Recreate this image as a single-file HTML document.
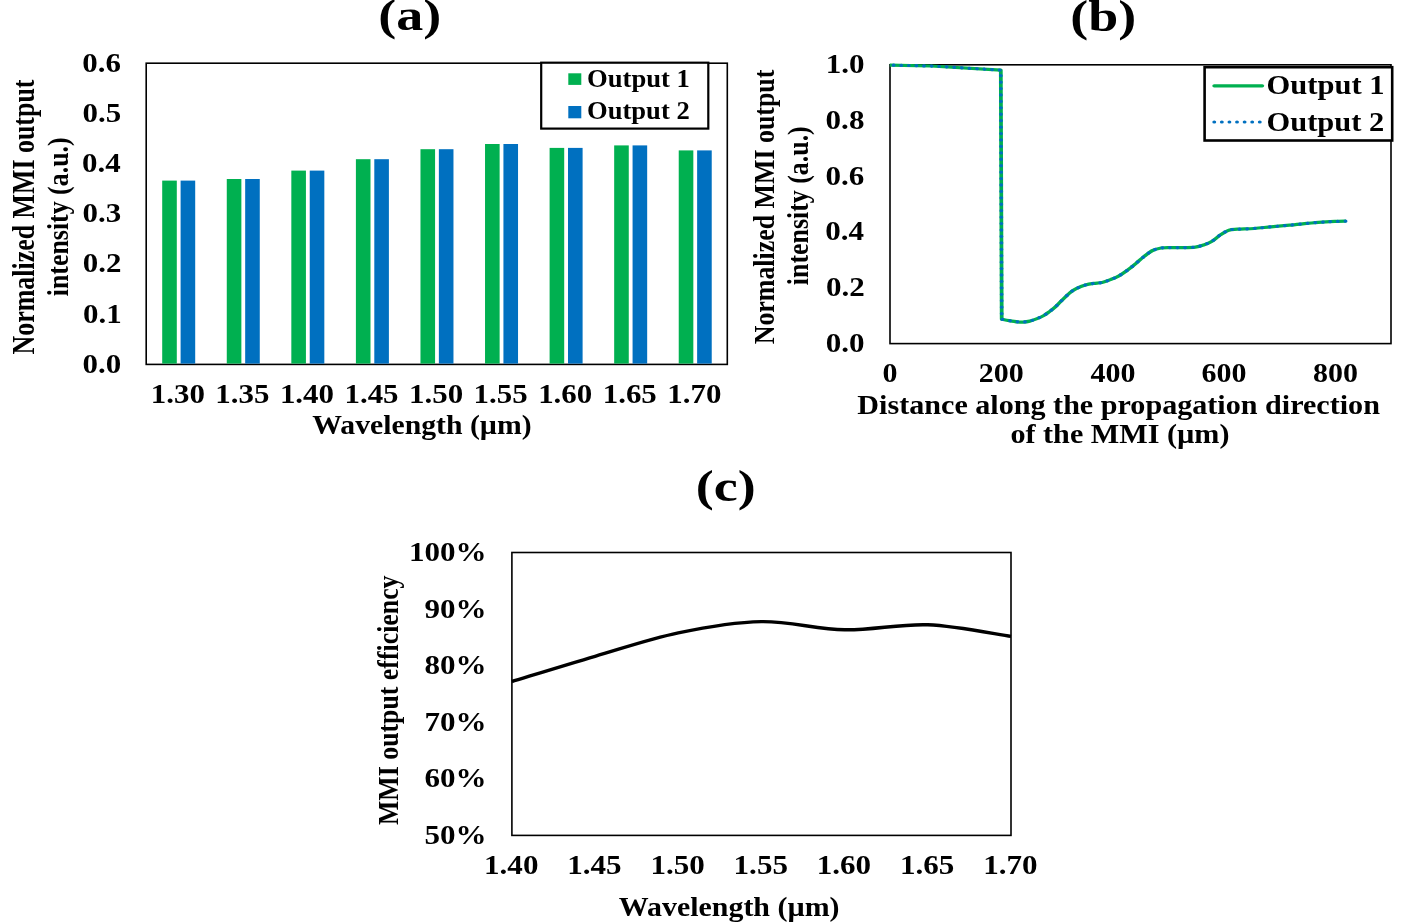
<!DOCTYPE html>
<html><head><meta charset="utf-8"><style>
html,body{margin:0;padding:0;background:#fff;}
svg{display:block;will-change:transform;}
text{font-family:"Liberation Serif",serif;font-weight:bold;fill:#000;}
</style></head><body>
<svg width="1425" height="924" viewBox="0 0 1425 924">
<rect width="1425" height="924" fill="#fff"/>
<text transform="translate(378.22,30.10) scale(1.2017,1)" font-size="45">(a)</text>
<rect x="146.20" y="63.20" width="581.10" height="301.20" fill="none" stroke="#000" stroke-width="1.6"/>
<rect x="162.20" y="180.60" width="14.60" height="183.00" fill="#00B050" stroke="none" stroke-width="0"/>
<rect x="180.60" y="180.60" width="14.60" height="183.00" fill="#0070C0" stroke="none" stroke-width="0"/>
<rect x="226.77" y="179.00" width="14.60" height="184.60" fill="#00B050" stroke="none" stroke-width="0"/>
<rect x="245.17" y="179.00" width="14.60" height="184.60" fill="#0070C0" stroke="none" stroke-width="0"/>
<rect x="291.33" y="170.60" width="14.60" height="193.00" fill="#00B050" stroke="none" stroke-width="0"/>
<rect x="309.73" y="170.60" width="14.60" height="193.00" fill="#0070C0" stroke="none" stroke-width="0"/>
<rect x="355.90" y="159.20" width="14.60" height="204.40" fill="#00B050" stroke="none" stroke-width="0"/>
<rect x="374.30" y="159.20" width="14.60" height="204.40" fill="#0070C0" stroke="none" stroke-width="0"/>
<rect x="420.47" y="149.20" width="14.60" height="214.40" fill="#00B050" stroke="none" stroke-width="0"/>
<rect x="438.87" y="149.20" width="14.60" height="214.40" fill="#0070C0" stroke="none" stroke-width="0"/>
<rect x="485.03" y="144.00" width="14.60" height="219.60" fill="#00B050" stroke="none" stroke-width="0"/>
<rect x="503.43" y="144.00" width="14.60" height="219.60" fill="#0070C0" stroke="none" stroke-width="0"/>
<rect x="549.60" y="147.90" width="14.60" height="215.70" fill="#00B050" stroke="none" stroke-width="0"/>
<rect x="568.00" y="147.90" width="14.60" height="215.70" fill="#0070C0" stroke="none" stroke-width="0"/>
<rect x="614.17" y="145.40" width="14.60" height="218.20" fill="#00B050" stroke="none" stroke-width="0"/>
<rect x="632.57" y="145.40" width="14.60" height="218.20" fill="#0070C0" stroke="none" stroke-width="0"/>
<rect x="678.73" y="150.40" width="14.60" height="213.20" fill="#00B050" stroke="none" stroke-width="0"/>
<rect x="697.13" y="150.40" width="14.60" height="213.20" fill="#0070C0" stroke="none" stroke-width="0"/>
<text transform="translate(82.61,372.70) scale(1.1250,1)" font-size="27.5">0.0</text>
<text transform="translate(83.03,322.50) scale(1.1250,1)" font-size="27.5">0.1</text>
<text transform="translate(82.76,272.30) scale(1.1250,1)" font-size="27.5">0.2</text>
<text transform="translate(82.49,222.10) scale(1.1250,1)" font-size="27.5">0.3</text>
<text transform="translate(82.00,171.90) scale(1.1250,1)" font-size="27.5">0.4</text>
<text transform="translate(82.56,121.70) scale(1.1250,1)" font-size="27.5">0.5</text>
<text transform="translate(82.33,71.50) scale(1.1250,1)" font-size="27.5">0.6</text>
<text transform="translate(150.76,402.80) scale(1.1250,1)" font-size="27.5">1.30</text>
<text transform="translate(215.31,402.80) scale(1.1250,1)" font-size="27.5">1.35</text>
<text transform="translate(279.90,402.80) scale(1.1250,1)" font-size="27.5">1.40</text>
<text transform="translate(344.44,402.80) scale(1.1250,1)" font-size="27.5">1.45</text>
<text transform="translate(409.03,402.80) scale(1.1250,1)" font-size="27.5">1.50</text>
<text transform="translate(473.57,402.80) scale(1.1250,1)" font-size="27.5">1.55</text>
<text transform="translate(538.16,402.80) scale(1.1250,1)" font-size="27.5">1.60</text>
<text transform="translate(602.71,402.80) scale(1.1250,1)" font-size="27.5">1.65</text>
<text transform="translate(667.30,402.80) scale(1.1250,1)" font-size="27.5">1.70</text>
<text transform="translate(312.28,433.50) scale(1.0814,1)" font-size="27.5">Wavelength (µm)</text>
<text transform="translate(33.80,354.39) scale(1.1800,1) rotate(-90)" font-size="25.92">Normalized MMI output</text>
<text transform="translate(68.00,296.27) scale(1.1600,1) rotate(-90)" font-size="25.90">intensity (a.u.)</text>
<rect x="541.20" y="62.70" width="167.10" height="65.90" fill="#fff" stroke="#000" stroke-width="2.2"/>
<rect x="568.30" y="73.30" width="13.00" height="11.60" fill="#00B050" stroke="none" stroke-width="0"/>
<rect x="568.30" y="106.00" width="13.00" height="12.30" fill="#0070C0" stroke="none" stroke-width="0"/>
<text transform="translate(587.00,86.60) scale(1.0839,1)" font-size="24.6">Output 1</text>
<text transform="translate(587.00,119.40) scale(1.0813,1)" font-size="24.6">Output 2</text>
<text transform="translate(1070.23,30.50) scale(1.1990,1)" font-size="45">(b)</text>
<rect x="890.00" y="64.80" width="501.00" height="278.80" fill="none" stroke="#000" stroke-width="1.6"/>
<text transform="translate(825.74,351.90) scale(1.1300,1)" font-size="27.5">0.0</text>
<text transform="translate(825.89,296.14) scale(1.1300,1)" font-size="27.5">0.2</text>
<text transform="translate(825.13,240.38) scale(1.1300,1)" font-size="27.5">0.4</text>
<text transform="translate(825.47,184.62) scale(1.1300,1)" font-size="27.5">0.6</text>
<text transform="translate(825.59,128.86) scale(1.1300,1)" font-size="27.5">0.8</text>
<text transform="translate(825.74,73.10) scale(1.1300,1)" font-size="27.5">1.0</text>
<text transform="translate(882.51,382.20) scale(1.0900,1)" font-size="27.5">0</text>
<text transform="translate(978.79,382.20) scale(1.0900,1)" font-size="27.5">200</text>
<text transform="translate(1090.55,382.20) scale(1.0900,1)" font-size="27.5">400</text>
<text transform="translate(1201.58,382.20) scale(1.0900,1)" font-size="27.5">600</text>
<text transform="translate(1312.93,382.20) scale(1.0900,1)" font-size="27.5">800</text>
<text transform="translate(857.37,414.00) scale(1.0956,1)" font-size="27.5">Distance along the propagation direction</text>
<text transform="translate(1010.45,442.90) scale(1.0961,1)" font-size="27.5">of the MMI (µm)</text>
<text transform="translate(774.00,344.29) scale(1.1700,1) rotate(-90)" font-size="25.90">Normalized MMI output</text>
<text transform="translate(807.80,285.17) scale(1.1600,1) rotate(-90)" font-size="25.90">intensity (a.u.)</text>
<g transform="scale(1.18,1)">
<path d="M754.07,65.10 L788.98,66.00 L848.14,70.20 L848.90,319.20 C849.93,319.43 852.85,320.15 855.08,320.60 C857.32,321.05 860.30,321.65 862.29,321.90 C864.28,322.15 865.30,322.23 867.03,322.10 C868.77,321.97 870.73,321.68 872.71,321.10 C874.69,320.52 876.91,319.53 878.90,318.60 C880.89,317.67 882.91,316.67 884.66,315.50 C886.41,314.33 887.82,313.00 889.41,311.60 C890.99,310.20 892.64,308.70 894.15,307.10 C895.66,305.50 896.36,304.42 898.47,302.00 C900.59,299.58 904.52,294.87 906.86,292.60 C909.21,290.33 910.40,289.65 912.54,288.40 C914.69,287.15 917.36,285.93 919.75,285.10 C922.13,284.27 924.49,283.83 926.86,283.40 C929.24,282.97 931.61,283.13 933.98,282.50 C936.36,281.87 938.71,280.72 941.10,279.60 C943.49,278.48 945.92,277.35 948.31,275.80 C950.69,274.25 953.05,272.33 955.42,270.30 C957.80,268.27 960.17,265.92 962.54,263.60 C964.92,261.28 967.29,258.58 969.66,256.40 C972.03,254.22 974.39,251.90 976.78,250.50 C979.17,249.10 981.60,248.48 983.98,248.00 C986.37,247.52 988.06,247.65 991.10,247.60 C994.14,247.55 998.56,247.78 1002.20,247.70 C1005.85,247.62 1009.99,247.57 1012.97,247.10 C1015.95,246.63 1017.71,245.88 1020.08,244.90 C1022.46,243.92 1024.83,242.88 1027.20,241.20 C1029.58,239.52 1031.95,236.63 1034.32,234.80 C1036.69,232.97 1039.05,231.13 1041.44,230.20 C1043.83,229.27 1045.07,229.48 1048.64,229.20 C1052.22,228.92 1058.12,228.90 1062.88,228.50 C1067.64,228.10 1072.20,227.35 1077.20,226.80 C1082.20,226.25 1086.20,225.93 1092.88,225.20 C1099.56,224.47 1110.45,223.05 1117.29,222.40 C1124.12,221.75 1130.01,221.52 1133.90,221.30 C1137.78,221.08 1139.48,221.13 1140.59,221.10" fill="none" stroke="#00B050" stroke-width="3.2" stroke-linejoin="round"/>
<path d="M754.07,65.10 L788.98,66.00 L848.14,70.20 L848.90,319.20 C849.93,319.43 852.85,320.15 855.08,320.60 C857.32,321.05 860.30,321.65 862.29,321.90 C864.28,322.15 865.30,322.23 867.03,322.10 C868.77,321.97 870.73,321.68 872.71,321.10 C874.69,320.52 876.91,319.53 878.90,318.60 C880.89,317.67 882.91,316.67 884.66,315.50 C886.41,314.33 887.82,313.00 889.41,311.60 C890.99,310.20 892.64,308.70 894.15,307.10 C895.66,305.50 896.36,304.42 898.47,302.00 C900.59,299.58 904.52,294.87 906.86,292.60 C909.21,290.33 910.40,289.65 912.54,288.40 C914.69,287.15 917.36,285.93 919.75,285.10 C922.13,284.27 924.49,283.83 926.86,283.40 C929.24,282.97 931.61,283.13 933.98,282.50 C936.36,281.87 938.71,280.72 941.10,279.60 C943.49,278.48 945.92,277.35 948.31,275.80 C950.69,274.25 953.05,272.33 955.42,270.30 C957.80,268.27 960.17,265.92 962.54,263.60 C964.92,261.28 967.29,258.58 969.66,256.40 C972.03,254.22 974.39,251.90 976.78,250.50 C979.17,249.10 981.60,248.48 983.98,248.00 C986.37,247.52 988.06,247.65 991.10,247.60 C994.14,247.55 998.56,247.78 1002.20,247.70 C1005.85,247.62 1009.99,247.57 1012.97,247.10 C1015.95,246.63 1017.71,245.88 1020.08,244.90 C1022.46,243.92 1024.83,242.88 1027.20,241.20 C1029.58,239.52 1031.95,236.63 1034.32,234.80 C1036.69,232.97 1039.05,231.13 1041.44,230.20 C1043.83,229.27 1045.07,229.48 1048.64,229.20 C1052.22,228.92 1058.12,228.90 1062.88,228.50 C1067.64,228.10 1072.20,227.35 1077.20,226.80 C1082.20,226.25 1086.20,225.93 1092.88,225.20 C1099.56,224.47 1110.45,223.05 1117.29,222.40 C1124.12,221.75 1130.01,221.52 1133.90,221.30 C1137.78,221.08 1139.48,221.13 1140.59,221.10" fill="none" stroke="#0070C0" stroke-width="3.2" stroke-linecap="round" stroke-dasharray="0.1 6.33" stroke-dashoffset="-3.2"/>
</g>
<rect x="1204.60" y="67.20" width="187.60" height="73.30" fill="#fff" stroke="#000" stroke-width="2.6"/>
<g transform="scale(1.18,1)">
<line x1="1028.9830508474577" y1="85.8" x2="1069.7457627118645" y2="85.8" stroke="#00B050" stroke-width="3.2" stroke-linecap="round"/>
<line x1="1028.9830508474577" y1="122" x2="1069.7457627118645" y2="122" stroke="#0070C0" stroke-width="3.2" stroke-linecap="round" stroke-dasharray="0.1 6.33"/>
</g>
<text transform="translate(1266.51,94.30) scale(1.0918,1)" font-size="28">Output 1</text>
<text transform="translate(1266.51,130.70) scale(1.0893,1)" font-size="28">Output 2</text>
<text transform="translate(695.73,500.70) scale(1.2003,1)" font-size="45">(c)</text>
<rect x="511.90" y="552.50" width="499.10" height="282.90" fill="none" stroke="#000" stroke-width="1.6"/>
<text transform="translate(424.56,843.90) scale(1.1300,1)" font-size="27.5">50%</text>
<text transform="translate(424.56,787.32) scale(1.1300,1)" font-size="27.5">60%</text>
<text transform="translate(424.56,730.74) scale(1.1300,1)" font-size="27.5">70%</text>
<text transform="translate(424.56,674.16) scale(1.1300,1)" font-size="27.5">80%</text>
<text transform="translate(424.56,617.58) scale(1.1300,1)" font-size="27.5">90%</text>
<text transform="translate(409.03,561.00) scale(1.1300,1)" font-size="27.5">100%</text>
<text transform="translate(484.06,874.40) scale(1.1300,1)" font-size="27.5">1.40</text>
<text transform="translate(567.22,874.40) scale(1.1300,1)" font-size="27.5">1.45</text>
<text transform="translate(650.42,874.40) scale(1.1300,1)" font-size="27.5">1.50</text>
<text transform="translate(733.58,874.40) scale(1.1300,1)" font-size="27.5">1.55</text>
<text transform="translate(816.79,874.40) scale(1.1300,1)" font-size="27.5">1.60</text>
<text transform="translate(899.95,874.40) scale(1.1300,1)" font-size="27.5">1.65</text>
<text transform="translate(983.16,874.40) scale(1.1300,1)" font-size="27.5">1.70</text>
<text transform="translate(618.78,915.60) scale(1.0883,1)" font-size="27.5">Wavelength (µm)</text>
<text transform="translate(398.20,825.04) scale(1.1500,1) rotate(-90)" font-size="25.84">MMI output efficiency</text>
<path d="M511.9,681.5 C525.8,677.3 567.4,664.4 595.1,656.3 C622.8,648.2 650.5,638.7 678.3,632.9 C706.0,627.1 733.7,622.1 761.5,621.6 C789.2,621.1 816.9,629.3 844.6,629.8 C872.4,630.3 900.1,623.7 927.8,624.8 C955.5,625.9 997.1,634.5 1011.0,636.4" fill="none" stroke="#000" stroke-width="3.4"/>
</svg></body></html>
